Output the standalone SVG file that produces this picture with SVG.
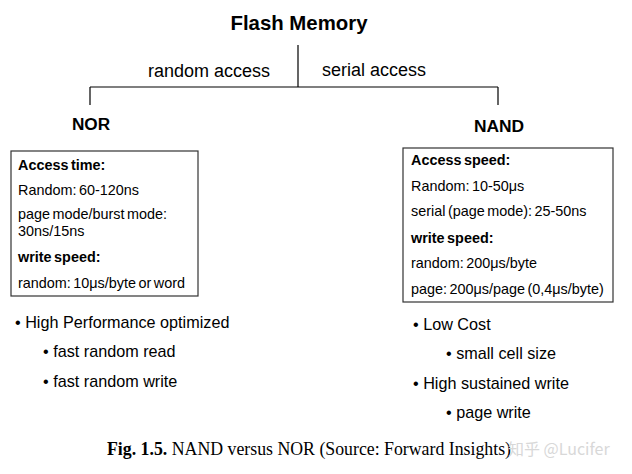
<svg xmlns="http://www.w3.org/2000/svg" width="632" height="474" viewBox="0 0 632 474">
<style>
.s{font-family:"Liberation Sans",Arial,sans-serif;fill:#000}
.b{font-weight:bold}
.box{fill:#fff;stroke:#333;stroke-width:1.2}
.ln{stroke:#000;stroke-width:1.2;fill:none}
.t{font-size:14.4px;word-spacing:-1.5px}
.bl{font-size:16.2px}
.cap{font-family:"Liberation Serif","Times New Roman",serif;font-size:17.8px;fill:#000}
</style>
<rect width="632" height="474" fill="#fff"/>
<g id="root"><text class="s b" x="299" y="30" font-size="20.4" text-anchor="middle">Flash Memory</text></g>
<g id="connectors">
<path class="ln" d="M298 45V87M90 87H498M90 87V105M498 87V105"/>
<text class="s" x="209" y="77" font-size="18" text-anchor="middle">random access</text>
<text class="s" x="374" y="76" font-size="18" text-anchor="middle">serial access</text>
</g>
<g id="nor">
<text class="s b" x="91" y="130" font-size="17.2" text-anchor="middle">NOR</text>
<rect class="box" x="11" y="151" width="187" height="145"/>
<g class="s t">
<text class="b" x="18" y="170">Access time:</text>
<text x="18" y="195">Random: 60-120ns</text>
<text x="18" y="219">page mode/burst mode:</text>
<text x="18" y="236">30ns/15ns</text>
<text class="b" x="18" y="262">write speed:</text>
<text x="18" y="288">random: 10μs/byte or word</text>
</g>
<g class="s bl">
<text x="15" y="328">• High Performance optimized</text>
<text x="43" y="357">• fast random read</text>
<text x="43" y="387">• fast random write</text>
</g>
</g>
<g id="nand">
<text class="s b" x="499" y="132" font-size="17.4" text-anchor="middle">NAND</text>
<rect class="box" x="403" y="148" width="210" height="154"/>
<g class="s t">
<text class="b" x="411" y="165">Access speed:</text>
<text x="411" y="191">Random: 10-50μs</text>
<text x="411" y="216">serial (page mode): 25-50ns</text>
<text class="b" x="411" y="243">write speed:</text>
<text x="411" y="268">random: 200μs/byte</text>
<text x="411" y="294">page: 200μs/page (0,4μs/byte)</text>
</g>
<g class="s bl">
<text x="413" y="330">• Low Cost</text>
<text x="446" y="359">• small cell size</text>
<text x="413" y="389">• High sustained write</text>
<text x="446" y="418">• page write</text>
</g>
</g>
<g id="caption">
<text class="cap" x="107" y="455"><tspan font-weight="bold">Fig. 1.5.</tspan> NAND versus NOR (Source: Forward Insights)</text>
<text x="508" y="455" font-family="'Noto Sans CJK SC','Liberation Sans',sans-serif" font-size="16" fill="#d8d8d8">知乎 @Lucifer</text>
</g>
</svg>
